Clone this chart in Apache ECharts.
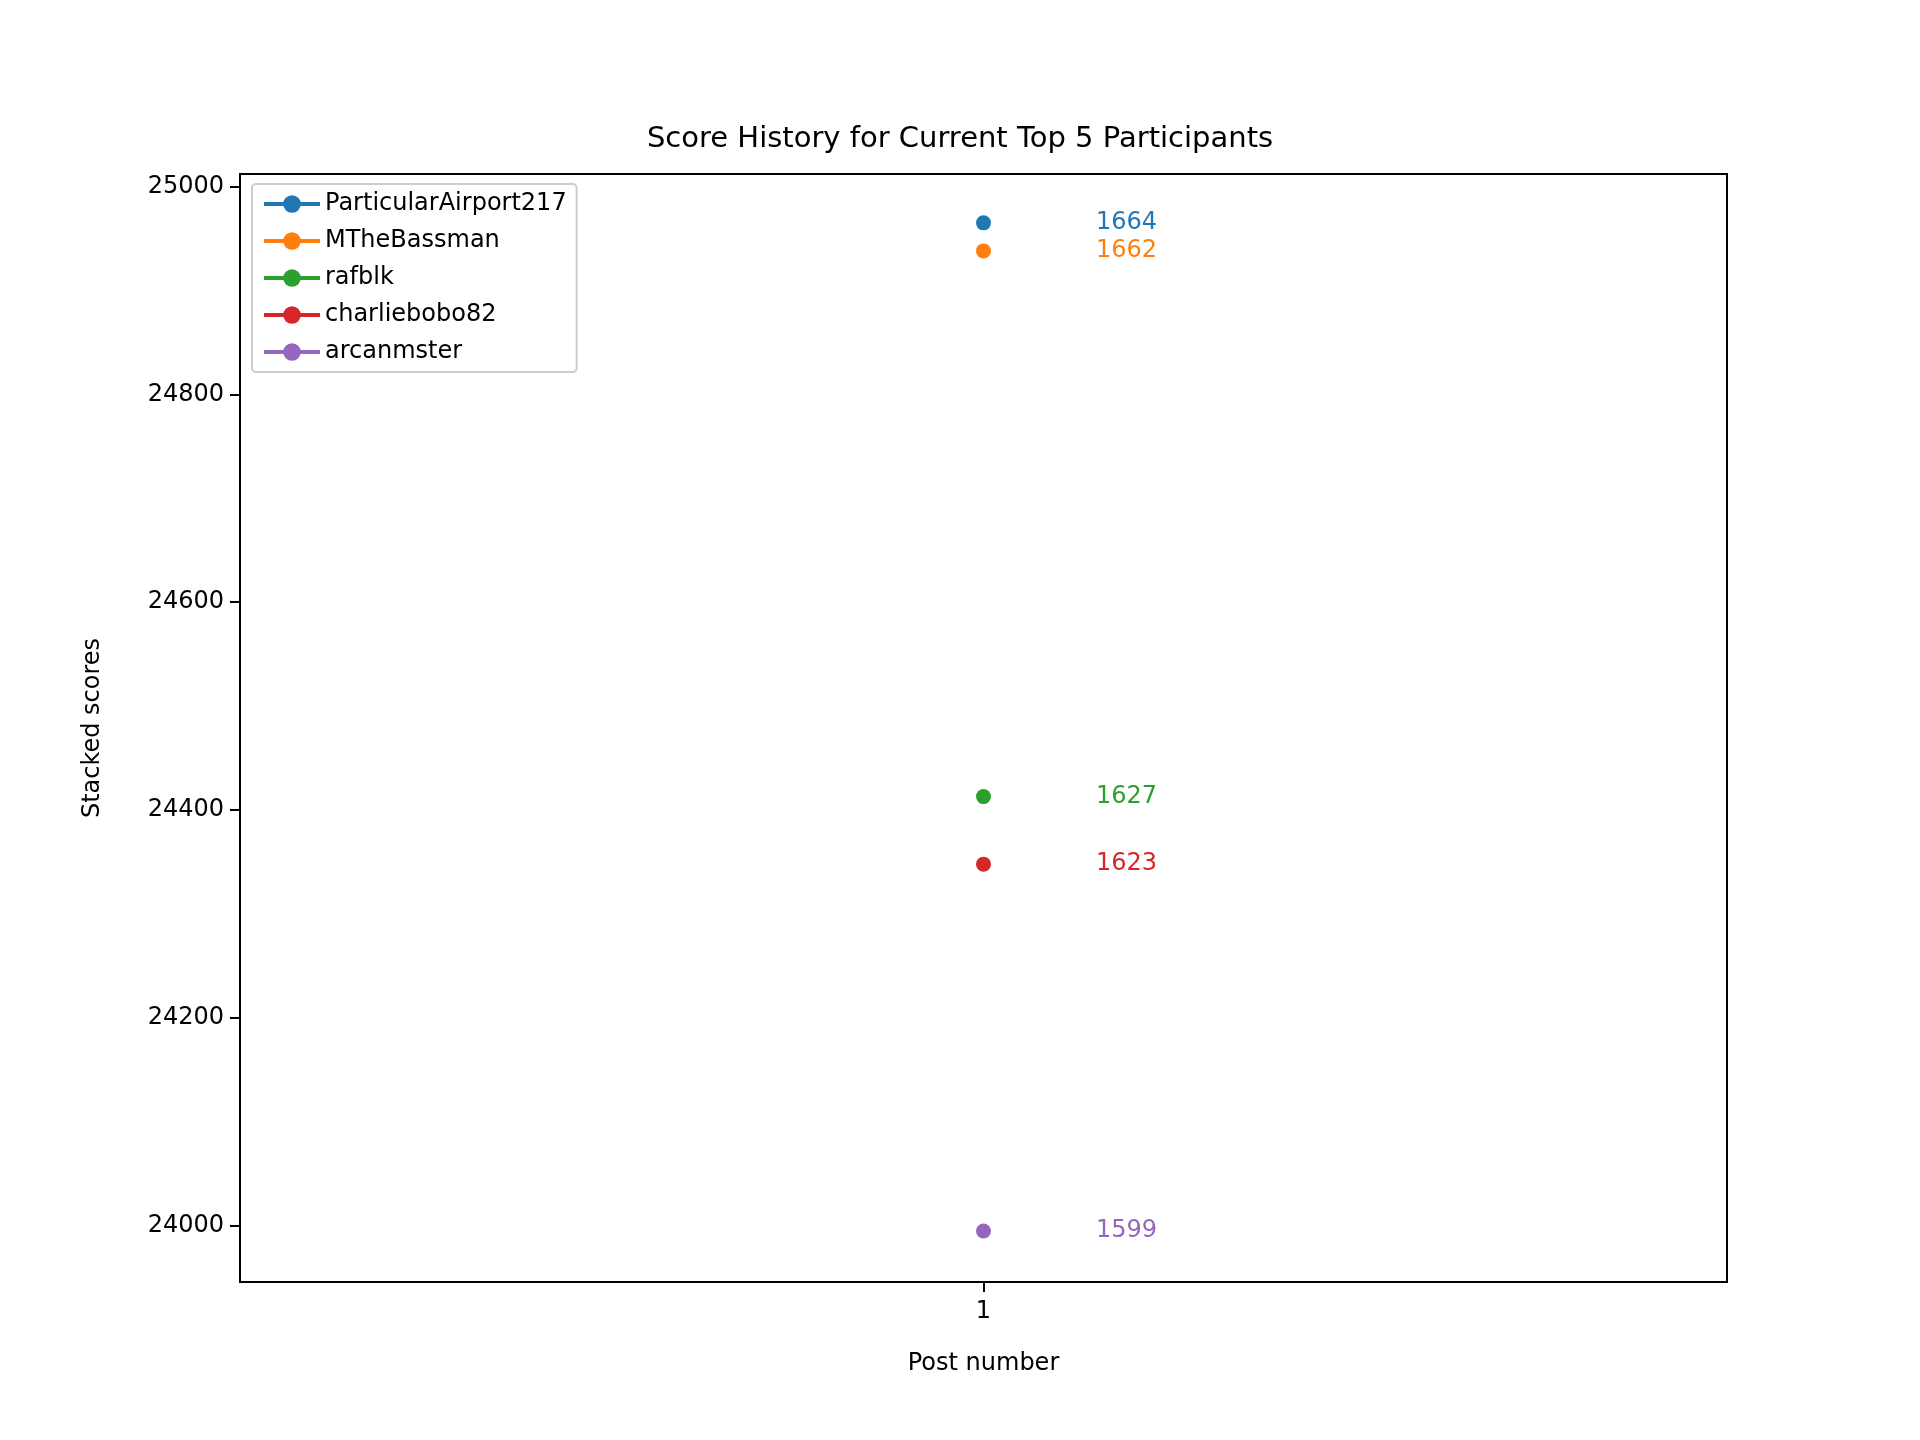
<!DOCTYPE html>
<html><head><meta charset="utf-8">
<script src="https://cdn.jsdelivr.net/npm/echarts@6/dist/echarts.min.js"></script>
<style>body{margin:0}#c{width:1920px;height:1440px}</style></head>
<body><div id="c"></div>
<script>
const categories = ['1'];
const names = ['ParticularAirport217','MTheBassman','rafblk','charliebobo82','arcanmster'];
const colors = ['#1f77b4','#ff7f0e','#2ca02c','#d62728','#9467bd'];
const stacked = [[24965],[24938],[24413],[24348],[23995]];
const scores = [1664,1662,1627,1623,1599];
const yTicks = [24000,24200,24400,24600,24800,25000];
const font = 'DejaVu Sans';
const chart = echarts.init(document.getElementById('c'));
chart.setOption({
  animation:false,
  title:{text:'Score History for Current Top 5 Participants',left:'center',top:120,textStyle:{fontFamily:font,fontSize:29,fontWeight:'normal',color:'#000'}},
  legend:{left:252,top:184,orient:'vertical',itemGap:13,itemWidth:56,itemHeight:22,
    borderColor:'#ccc',borderWidth:2,borderRadius:4,padding:[8,10,8,10],
    lineStyle:{width:4},
    textStyle:{fontFamily:font,fontSize:24,color:'#000'},data:names},
  grid:{left:240,right:193,top:174,bottom:158},
  xAxis:{type:'category',data:categories,name:'Post number',nameLocation:'middle',nameGap:70,
    nameTextStyle:{fontFamily:font,fontSize:24,color:'#000'},
    axisLine:{lineStyle:{color:'#000',width:2}},axisTick:{show:true,alignWithLabel:true,length:10,lineStyle:{width:2,color:'#000'}},
    axisLabel:{fontFamily:font,fontSize:24,color:'#000',margin:18}},
  yAxis:{type:'value',min:23946,max:25012,name:'Stacked scores',nameLocation:'middle',nameGap:135,
    nameTextStyle:{fontFamily:font,fontSize:24,color:'#000'},
    axisLine:{show:true,lineStyle:{color:'#000',width:2}},splitLine:{show:false},
    axisTick:{show:true,length:10,lineStyle:{width:2,color:'#000'},customValues:yTicks},
    axisLabel:{fontFamily:font,fontSize:24,color:'#000',margin:16,customValues:yTicks,formatter:v=>String(v)}},
  series:names.map((n,i)=>({name:n,type:'line',data:stacked[i],color:colors[i],
    symbol:'circle',symbolSize:15,lineStyle:{width:4},
    label:{show:true,position:'right',distance:105,formatter:()=>String(scores[i]),
      color:colors[i],fontFamily:font,fontSize:24}}))
});
chart.setOption({graphic:[{type:'rect',shape:{x:240,y:174,width:1487,height:1108},style:{fill:'none',stroke:'#000',lineWidth:2},silent:true}]});
</script></body></html>
